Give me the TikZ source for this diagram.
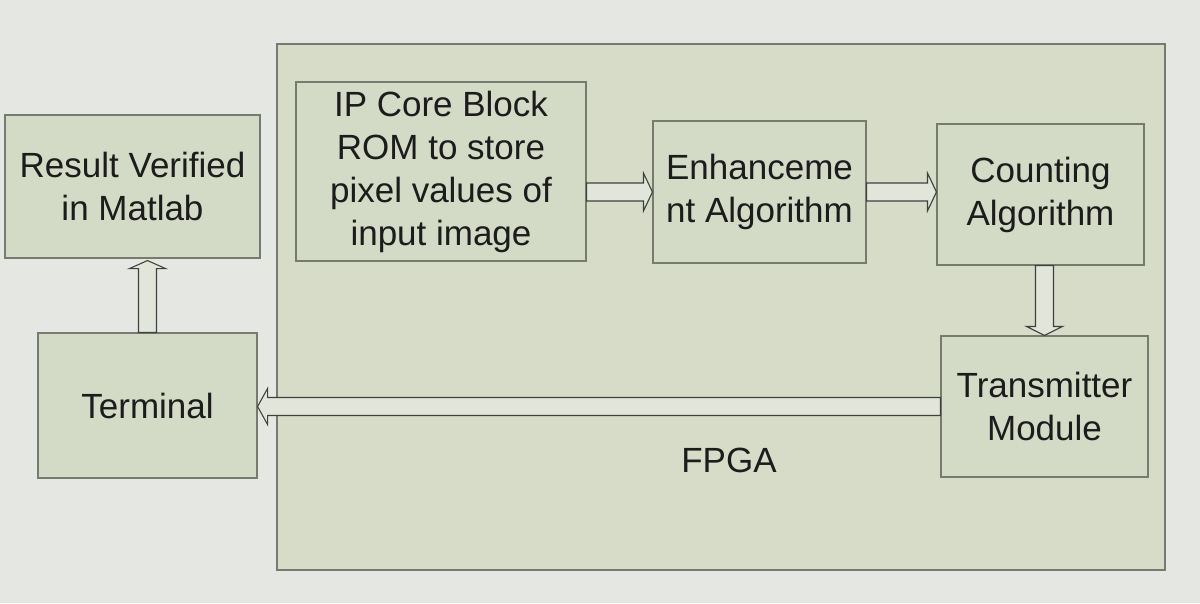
\documentclass[tikz,border=0pt]{standalone}
\usepackage{fontspec}
\setmainfont{Liberation Sans}
\usetikzlibrary{calc}
\definecolor{bgc}{RGB}{229,231,226}
\definecolor{fpgac}{RGB}{214,220,200}
\definecolor{boxc}{RGB}{211,218,197}
\definecolor{edgec}{RGB}{118,123,112}
\definecolor{arrfill}{RGB}{226,229,217}
\definecolor{arrline}{RGB}{62,66,60}
\definecolor{txtc}{RGB}{28,28,28}
\tikzset{
  boxnode/.style={draw=edgec, line width=1.1pt, fill=boxc, align=center,
    inner sep=0pt, text=txtc, font=\fontsize{35}{43}\selectfont},
  barrow/.style={draw=arrline, line width=1.1pt, fill=arrfill, line join=miter},
  lbl/.style={text=txtc, font=\fontsize{35}{43}\selectfont, inner sep=0pt}
}
\begin{document}
\begin{tikzpicture}[x=1pt,y=-1pt]
\useasboundingbox[fill=bgc] (0,0) rectangle (1200,603);
% FPGA area
\node[draw=edgec, line width=1.1pt, fill=fpgac, minimum width=888pt, minimum height=526pt, inner sep=0pt] (fpga) at (721,307) {};
\node[lbl] (fpgalbl) at (729,460) {FPGA};
% boxes
\node[boxnode, minimum width=290pt, minimum height=179pt] (ip) at (441,171.5)
  {IP Core Block\\ROM to store\\pixel values of\\input image};
\node[boxnode, minimum width=213pt, minimum height=142pt] (enh) at (759.5,192)
  {Enhanceme\\nt Algorithm};
\node[boxnode, minimum width=207pt, minimum height=141pt] (cnt) at (1040.5,194.5)
  {Counting\\Algorithm};
\node[boxnode, minimum width=207pt, minimum height=141pt] (trans) at (1044.5,406.5)
  {Transmitter\\Module};
\node[boxnode, minimum width=255pt, minimum height=143pt] (res) at (132.5,186.5)
  {Result Verified\\in Matlab};
\node[boxnode, minimum width=219pt, minimum height=145pt] (term) at (147.5,405.5)
  {Terminal};
% block arrows
\draw[barrow] let \p1=(ip.east), \p2=(enh.west) in
  (\x1,\y2+9pt) -- (\x2-9pt,\y2+9pt) -- (\x2-9pt,\y2+19pt) -- (\x2,\y2)
  -- (\x2-9pt,\y2-19pt) -- (\x2-9pt,\y2-9pt) -- (\x1,\y2-9pt) -- cycle;
\draw[barrow] let \p1=(enh.east), \p2=(cnt.west) in
  (\x1,\y1+9pt) -- (\x2-9pt,\y1+9pt) -- (\x2-9pt,\y1+19pt) -- (\x2,\y1)
  -- (\x2-9pt,\y1-19pt) -- (\x2-9pt,\y1-9pt) -- (\x1,\y1-9pt) -- cycle;
\draw[barrow] let \p1=(cnt.south), \p2=(trans.north) in
  (\x2-9pt,\y1) -- (\x2-9pt,\y2+9pt) -- (\x2-18pt,\y2+9pt) -- (\x2,\y2)
  -- (\x2+18pt,\y2+9pt) -- (\x2+9pt,\y2+9pt) -- (\x2+9pt,\y1) -- cycle;
\draw[barrow] let \p1=(term.north), \p2=(res.south) in
  (\x1-9pt,\y1) -- (\x1-9pt,\y2-10pt) -- (\x1-18pt,\y2-10pt) -- (\x1,\y2-2pt)
  -- (\x1+18pt,\y2-10pt) -- (\x1+9pt,\y2-10pt) -- (\x1+9pt,\y1) -- cycle;
\draw[barrow] let \p1=(trans.west), \p2=(term.east) in
  (\x1,\y1+9pt) -- (\x2+10pt,\y1+9pt) -- (\x2+10pt,\y1+18pt) -- (\x2,\y1)
  -- (\x2+10pt,\y1-18pt) -- (\x2+10pt,\y1-9pt) -- (\x1,\y1-9pt) -- cycle;
\end{tikzpicture}
\end{document}
